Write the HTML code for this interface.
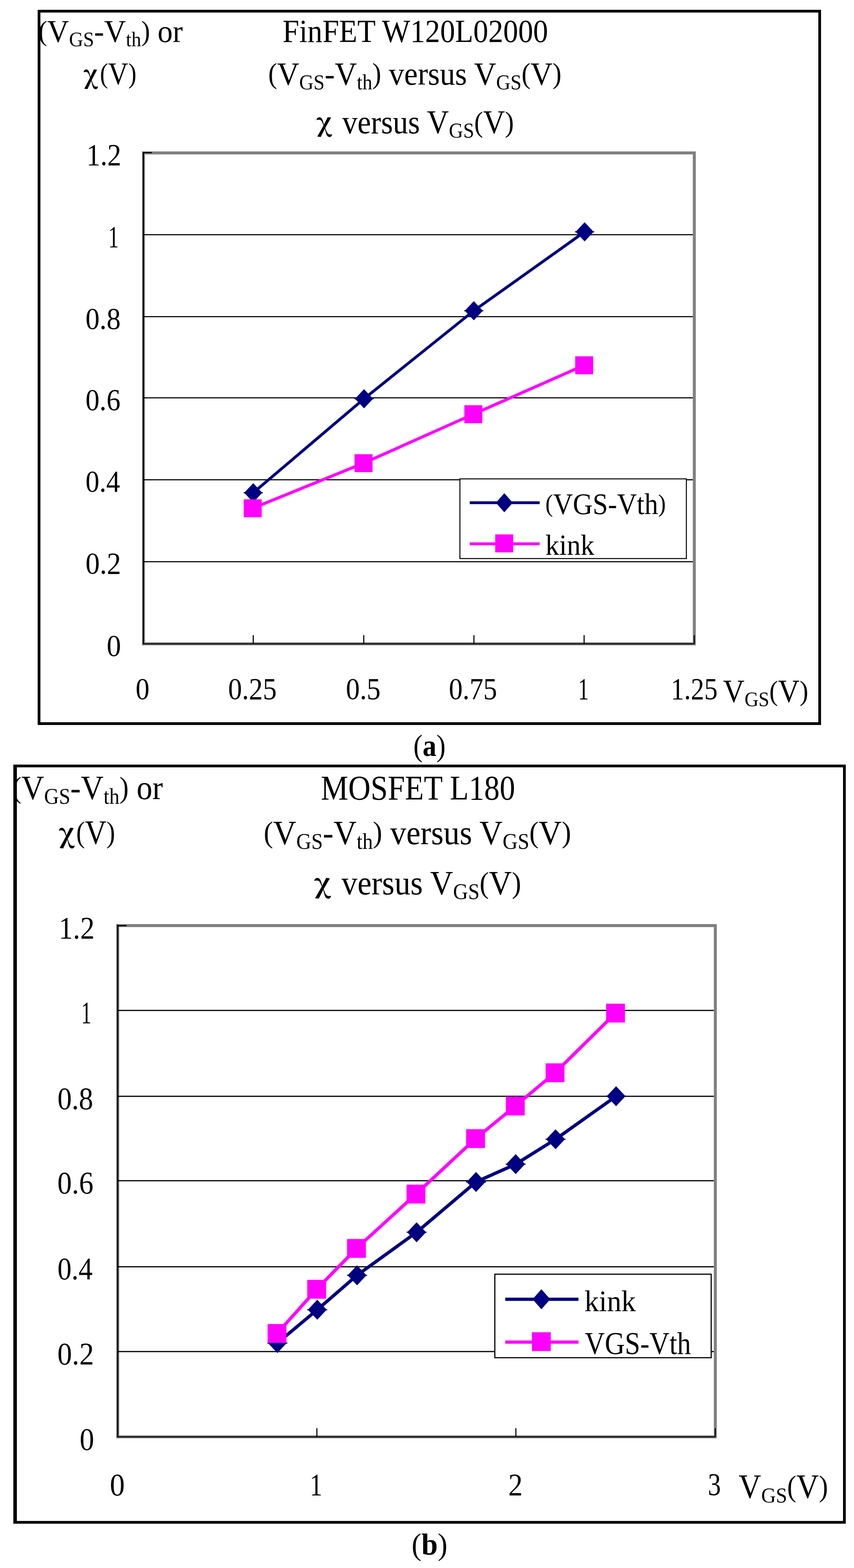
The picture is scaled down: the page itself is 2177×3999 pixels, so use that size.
<!DOCTYPE html>
<html><head><meta charset="utf-8"><title>FinFET / MOSFET (VGS-Vth) and kink versus VGS</title>
<style>html,body{margin:0;padding:0;background:#fff;}svg{display:block;}
text{font-family:"Liberation Serif","DejaVu Serif",serif;fill:#000;}</style></head>
<body><svg width="2177" height="3999" viewBox="0 0 2177 3999">
<rect width="2177" height="3999" fill="#fff"/>
<rect x='365.75' y='390.00' width='1404.15' height='1252.00' fill='none' stroke='#808080' stroke-width='7.6'/>
<line x1='365.75' y1='1432.70' x2='1766.10' y2='1432.70' stroke='#000' stroke-width='2.8' stroke-linecap='butt'/>
<line x1='365.75' y1='1223.70' x2='1766.10' y2='1223.70' stroke='#000' stroke-width='2.8' stroke-linecap='butt'/>
<line x1='365.75' y1='1014.60' x2='1766.10' y2='1014.60' stroke='#000' stroke-width='2.8' stroke-linecap='butt'/>
<line x1='365.75' y1='807.60' x2='1766.10' y2='807.60' stroke='#000' stroke-width='2.8' stroke-linecap='butt'/>
<line x1='365.75' y1='598.70' x2='1766.10' y2='598.70' stroke='#000' stroke-width='2.8' stroke-linecap='butt'/>
<line x1='365.50' y1='387.70' x2='365.50' y2='1643.25' stroke='#000' stroke-width='3' stroke-linecap='butt'/>
<line x1='364.00' y1='1642.00' x2='1769.90' y2='1642.00' stroke='#000' stroke-width='2.3' stroke-linecap='butt'/>
<line x1='364.00' y1='389.25' x2='387.00' y2='389.25' stroke='#000' stroke-width='3' stroke-linecap='butt'/>
<line x1='645.60' y1='1620.00' x2='645.60' y2='1642.00' stroke='#000' stroke-width='2.8' stroke-linecap='butt'/>
<line x1='927.30' y1='1620.00' x2='927.30' y2='1642.00' stroke='#000' stroke-width='2.8' stroke-linecap='butt'/>
<line x1='1208.10' y1='1620.00' x2='1208.10' y2='1642.00' stroke='#000' stroke-width='2.8' stroke-linecap='butt'/>
<line x1='1489.00' y1='1620.00' x2='1489.00' y2='1642.00' stroke='#000' stroke-width='2.8' stroke-linecap='butt'/>
<line x1='1769.90' y1='1620.00' x2='1769.90' y2='1642.00' stroke='#000' stroke-width='2.8' stroke-linecap='butt'/>
<polyline fill='none' stroke='#000080' stroke-width='7.3' stroke-linejoin='round' stroke-linecap='round' points='645.5,1256.8 928.0,1017.0 1207.8,792.5 1490.3,591.2'/>
<polyline fill='none' stroke='#FF00FF' stroke-width='7.6' stroke-linejoin='round' stroke-linecap='round' points='644.2,1296.3 926.7,1181.3 1206.6,1056.4 1489.2,931.6'/>
<polygon fill='#000080' points='622.5,1256.8 645.5,1232.3 668.5,1256.8 645.5,1281.3'/>
<rect x='621.00' y='1255.40' width='49.00' height='2.80' fill='#000080'/>
<polygon fill='#000080' points='905.0,1017.0 928.0,992.5 951.0,1017.0 928.0,1041.5'/>
<rect x='903.50' y='1015.60' width='49.00' height='2.80' fill='#000080'/>
<polygon fill='#000080' points='1184.8,792.5 1207.8,768.0 1230.8,792.5 1207.8,817.0'/>
<rect x='1183.30' y='791.10' width='49.00' height='2.80' fill='#000080'/>
<polygon fill='#000080' points='1467.3,591.2 1490.3,566.7 1513.3,591.2 1490.3,615.7'/>
<rect x='1465.80' y='589.80' width='49.00' height='2.80' fill='#000080'/>
<rect x='621.30' y='1273.40' width='45.80' height='45.80' fill='#FF00FF'/>
<rect x='903.80' y='1158.40' width='45.80' height='45.80' fill='#FF00FF'/>
<rect x='1183.70' y='1033.50' width='45.80' height='45.80' fill='#FF00FF'/>
<rect x='1466.30' y='908.70' width='45.80' height='45.80' fill='#FF00FF'/>
<rect x='1172.40' y='1221.30' width='577.30' height='203.20' fill='#fff' stroke='#000' stroke-width='2.5'/>
<line x1='1197.50' y1='1282.10' x2='1375.70' y2='1282.10' stroke='#000080' stroke-width='7.4' stroke-linecap='butt'/>
<polygon fill='#000080' points='1264.1,1282.2 1285.6,1257.8 1307.1,1282.2 1285.6,1306.6'/>
<line x1='1197.50' y1='1386.90' x2='1375.70' y2='1386.90' stroke='#FF00FF' stroke-width='7.4' stroke-linecap='butt'/>
<rect x='1262.40' y='1362.90' width='45.80' height='45.80' fill='#FF00FF'/>
<rect x='300.10' y='2360.60' width='1523.40' height='1303.90' fill='none' stroke='#808080' stroke-width='7.6'/>
<line x1='300.10' y1='3447.10' x2='1819.70' y2='3447.10' stroke='#000' stroke-width='3' stroke-linecap='butt'/>
<line x1='300.10' y1='3230.80' x2='1819.70' y2='3230.80' stroke='#000' stroke-width='3' stroke-linecap='butt'/>
<line x1='300.10' y1='3011.30' x2='1819.70' y2='3011.30' stroke='#000' stroke-width='3' stroke-linecap='butt'/>
<line x1='300.10' y1='2795.90' x2='1819.70' y2='2795.90' stroke='#000' stroke-width='3' stroke-linecap='butt'/>
<line x1='300.10' y1='2576.90' x2='1819.70' y2='2576.90' stroke='#000' stroke-width='3' stroke-linecap='butt'/>
<line x1='300.00' y1='2358.30' x2='300.00' y2='3665.75' stroke='#000' stroke-width='3' stroke-linecap='butt'/>
<line x1='298.50' y1='3664.50' x2='1823.50' y2='3664.50' stroke='#000' stroke-width='2.5' stroke-linecap='butt'/>
<line x1='298.50' y1='2360.80' x2='322.60' y2='2360.80' stroke='#000' stroke-width='3' stroke-linecap='butt'/>
<line x1='807.80' y1='3642.50' x2='807.80' y2='3664.50' stroke='#000' stroke-width='2.8' stroke-linecap='butt'/>
<line x1='1315.00' y1='3642.50' x2='1315.00' y2='3664.50' stroke='#000' stroke-width='2.8' stroke-linecap='butt'/>
<line x1='1823.30' y1='3642.50' x2='1823.30' y2='3664.50' stroke='#000' stroke-width='2.8' stroke-linecap='butt'/>
<polyline fill='none' stroke='#000080' stroke-width='8.4' stroke-linejoin='round' stroke-linecap='round' points='707.0,3425.3 808.8,3340.3 910.2,3252.4 1062.0,3142.7 1213.5,3014.4 1314.5,2969.1 1416.2,2905.5 1570.5,2795.8'/>
<polyline fill='none' stroke='#FF00FF' stroke-width='8.4' stroke-linejoin='round' stroke-linecap='round' points='706.2,3400.8 807.3,3288.2 908.7,3184.0 1060.4,3045.4 1212.3,2903.9 1313.6,2820.8 1414.9,2735.9 1569.1,2583.8'/>
<polygon fill='#000080' points='683.0,3425.3 707.0,3399.8 731.0,3425.3 707.0,3450.8'/>
<rect x='681.50' y='3423.90' width='51.00' height='2.80' fill='#000080'/>
<polygon fill='#000080' points='784.8,3340.3 808.8,3314.8 832.8,3340.3 808.8,3365.8'/>
<rect x='783.30' y='3338.90' width='51.00' height='2.80' fill='#000080'/>
<polygon fill='#000080' points='886.2,3252.4 910.2,3226.9 934.2,3252.4 910.2,3277.9'/>
<rect x='884.70' y='3251.00' width='51.00' height='2.80' fill='#000080'/>
<polygon fill='#000080' points='1038.0,3142.7 1062.0,3117.2 1086.0,3142.7 1062.0,3168.2'/>
<rect x='1036.50' y='3141.30' width='51.00' height='2.80' fill='#000080'/>
<polygon fill='#000080' points='1189.5,3014.4 1213.5,2988.9 1237.5,3014.4 1213.5,3039.9'/>
<rect x='1188.00' y='3013.00' width='51.00' height='2.80' fill='#000080'/>
<polygon fill='#000080' points='1290.5,2969.1 1314.5,2943.6 1338.5,2969.1 1314.5,2994.6'/>
<rect x='1289.00' y='2967.70' width='51.00' height='2.80' fill='#000080'/>
<polygon fill='#000080' points='1392.2,2905.5 1416.2,2880.0 1440.2,2905.5 1416.2,2931.0'/>
<rect x='1390.70' y='2904.10' width='51.00' height='2.80' fill='#000080'/>
<polygon fill='#000080' points='1546.5,2795.8 1570.5,2770.3 1594.5,2795.8 1570.5,2821.3'/>
<rect x='1545.00' y='2794.40' width='51.00' height='2.80' fill='#000080'/>
<rect x='682.20' y='3376.80' width='48.00' height='48.00' fill='#FF00FF'/>
<rect x='783.30' y='3264.20' width='48.00' height='48.00' fill='#FF00FF'/>
<rect x='884.70' y='3160.00' width='48.00' height='48.00' fill='#FF00FF'/>
<rect x='1036.40' y='3021.40' width='48.00' height='48.00' fill='#FF00FF'/>
<rect x='1188.30' y='2879.90' width='48.00' height='48.00' fill='#FF00FF'/>
<rect x='1289.60' y='2796.80' width='48.00' height='48.00' fill='#FF00FF'/>
<rect x='1390.90' y='2711.90' width='48.00' height='48.00' fill='#FF00FF'/>
<rect x='1545.10' y='2559.80' width='48.00' height='48.00' fill='#FF00FF'/>
<rect x='1261.40' y='3249.70' width='551.60' height='213.00' fill='#fff' stroke='#000' stroke-width='2.9'/>
<line x1='1288.00' y1='3313.60' x2='1474.70' y2='3313.60' stroke='#000080' stroke-width='8.4' stroke-linecap='butt'/>
<polygon fill='#000080' points='1357.6,3313.6 1380.1,3287.9 1402.6,3313.6 1380.1,3339.3'/>
<line x1='1288.00' y1='3422.90' x2='1474.70' y2='3422.90' stroke='#FF00FF' stroke-width='8.4' stroke-linecap='butt'/>
<rect x='1356.00' y='3397.70' width='48.00' height='48.00' fill='#FF00FF'/>
<defs><clipPath id='ca'><rect x='96' y='25' width='1997' height='1824'/></clipPath><clipPath id='cb'><rect x='34' y='1950' width='2122' height='1936'/></clipPath></defs>
<g clip-path='url(#ca)'>
<text transform='matrix(0.9474,0,0,1.0000,97.82,106.80)' font-size='81.2' ><tspan font-size='71.46' dy='-3.82'>(</tspan><tspan font-size='81.20' dy='3.82'>V</tspan><tspan font-size='52.78' dy='11.37'>GS</tspan><tspan font-size='81.20' dy='-11.37'>-V</tspan><tspan font-size='52.78' dy='11.37'>th</tspan><tspan font-size='71.46' dy='-15.18'>)</tspan><tspan font-size='81.20' dy='3.82'> or</tspan></text>
<text transform='matrix(0.7583,0,0,0.8274,212.90,212.71)' font-size='80' style="font-family:'Noto Serif CJK SC', 'Liberation Serif', serif" font-weight='bold'>χ</text>
<text transform='matrix(0.8790,0,0,1.0000,254.76,214.50)' font-size='81' ><tspan font-size='71.28' dy='-3.81'>(</tspan><tspan font-size='81.00' dy='3.81'>V</tspan><tspan font-size='71.28' dy='-3.81'>)</tspan></text>
<text transform='matrix(0.9129,0,0,1.0000,720.27,107.30)' font-size='83.5' >FinFET W120L02000</text>
<text transform='matrix(0.9386,0,0,1.0000,683.68,216.30)' font-size='83' ><tspan font-size='73.04' dy='-3.90'>(</tspan><tspan font-size='83.00' dy='3.90'>V</tspan><tspan font-size='53.95' dy='11.62'>GS</tspan><tspan font-size='83.00' dy='-11.62'>-V</tspan><tspan font-size='53.95' dy='11.62'>th</tspan><tspan font-size='73.04' dy='-15.52'>)</tspan><tspan font-size='83.00' dy='3.90'> versus V</tspan><tspan font-size='53.95' dy='11.62'>GS</tspan><tspan font-size='73.04' dy='-15.52'>(</tspan><tspan font-size='83.00' dy='3.90'>V</tspan><tspan font-size='73.04' dy='-3.90'>)</tspan></text>
<text transform='matrix(0.8229,0,0,0.8226,806.80,335.09)' font-size='80' style="font-family:'Noto Serif CJK SC', 'Liberation Serif', serif" font-weight='bold'>χ</text>
<text transform='matrix(0.9190,0,0,1.0000,872.50,339.50)' font-size='84.3' ><tspan font-size='84.30'>versus V</tspan><tspan font-size='54.80' dy='11.80'>GS</tspan><tspan font-size='74.18' dy='-15.76'>(</tspan><tspan font-size='84.30' dy='3.96'>V</tspan><tspan font-size='74.18' dy='-3.96'>)</tspan></text>
<text transform='matrix(0.9080,0,0,1.0000,220.14,421.00)' font-size='78.5' >1.2</text>
<text transform='matrix(0.6821,0,0,1.0000,275.92,630.00)' font-size='78.5' >1</text>
<text transform='matrix(0.9141,0,0,1.0000,217.96,839.00)' font-size='78.5' >0.8</text>
<text transform='matrix(0.9075,0,0,1.0000,217.98,1045.50)' font-size='78.5' >0.6</text>
<text transform='matrix(0.8979,0,0,1.0000,218.01,1254.30)' font-size='78.5' >0.4</text>
<text transform='matrix(0.9242,0,0,1.0000,217.93,1462.90)' font-size='78.5' >0.2</text>
<text transform='matrix(0.9303,0,0,1.0000,271.91,1673.00)' font-size='78.5' >0</text>
<text transform='matrix(0.8941,0,0,1.0000,345.72,1783.00)' font-size='79' >0</text>
<text transform='matrix(0.8962,0,0,1.0000,581.41,1783.00)' font-size='79' >0.25</text>
<text transform='matrix(0.8957,0,0,1.0000,881.81,1783.00)' font-size='79' >0.5</text>
<text transform='matrix(0.8894,0,0,1.0000,1144.23,1783.00)' font-size='79' >0.75</text>
<text transform='matrix(0.6964,0,0,1.0000,1473.62,1783.00)' font-size='79' >1</text>
<text transform='matrix(0.8633,0,0,1.0000,1709.96,1783.00)' font-size='79' >1.25</text>
<text transform='matrix(0.9323,0,0,1.0000,1843.07,1789.50)' font-size='81.5' ><tspan font-size='81.50'>V</tspan><tspan font-size='52.98' dy='11.41'>GS</tspan><tspan font-size='71.72' dy='-15.24'>(</tspan><tspan font-size='81.50' dy='3.83'>V</tspan><tspan font-size='71.72' dy='-3.83'>)</tspan></text>
<text transform='matrix(0.9121,0,0,1.0000,1390.36,1310.80)' font-size='76.6' ><tspan font-size='64.34' dy='-5.59'>(</tspan><tspan font-size='76.60' dy='5.59'>VGS-Vth</tspan><tspan font-size='64.34' dy='-5.59'>)</tspan></text>
<text transform='matrix(0.9636,0,0,1.0000,1390.24,1415.10)' font-size='73' >kink</text>
</g>
<g clip-path='url(#cb)'>
<text transform='matrix(0.9244,0,0,1.0000,30.97,2038.30)' font-size='86.9' ><tspan font-size='76.47' dy='-4.08'>(</tspan><tspan font-size='86.90' dy='4.08'>V</tspan><tspan font-size='56.49' dy='12.17'>GS</tspan><tspan font-size='86.90' dy='-12.17'>-V</tspan><tspan font-size='56.49' dy='12.17'>th</tspan><tspan font-size='76.47' dy='-16.25'>)</tspan><tspan font-size='86.90' dy='4.08'> or</tspan></text>
<text transform='matrix(0.8333,0,0,0.8694,150.10,2149.05)' font-size='80' style="font-family:'Noto Serif CJK SC', 'Liberation Serif', serif" font-weight='bold'>χ</text>
<text transform='matrix(0.8776,0,0,1.0000,194.37,2152.00)' font-size='86.4' ><tspan font-size='76.03' dy='-4.06'>(</tspan><tspan font-size='86.40' dy='4.06'>V</tspan><tspan font-size='76.03' dy='-4.06'>)</tspan></text>
<text transform='matrix(0.8931,0,0,1.0000,817.81,2039.20)' font-size='88.2' >MOSFET L180</text>
<text transform='matrix(0.9386,0,0,1.0000,672.28,2152.50)' font-size='87' ><tspan font-size='76.56' dy='-4.09'>(</tspan><tspan font-size='87.00' dy='4.09'>V</tspan><tspan font-size='56.55' dy='12.18'>GS</tspan><tspan font-size='87.00' dy='-12.18'>-V</tspan><tspan font-size='56.55' dy='12.18'>th</tspan><tspan font-size='76.56' dy='-16.27'>)</tspan><tspan font-size='87.00' dy='4.09'> versus V</tspan><tspan font-size='56.55' dy='12.18'>GS</tspan><tspan font-size='76.56' dy='-16.27'>(</tspan><tspan font-size='87.00' dy='4.09'>V</tspan><tspan font-size='76.56' dy='-4.09'>)</tspan></text>
<text transform='matrix(0.8792,0,0,0.8629,801.00,2277.17)' font-size='80' style="font-family:'Noto Serif CJK SC', 'Liberation Serif', serif" font-weight='bold'>χ</text>
<text transform='matrix(0.9320,0,0,1.0000,870.60,2281.30)' font-size='87' ><tspan font-size='87.00'>versus V</tspan><tspan font-size='56.55' dy='12.18'>GS</tspan><tspan font-size='76.56' dy='-16.27'>(</tspan><tspan font-size='87.00' dy='4.09'>V</tspan><tspan font-size='76.56' dy='-4.09'>)</tspan></text>
<text transform='matrix(0.9112,0,0,1.0000,149.42,2394.00)' font-size='80.5' >1.2</text>
<text transform='matrix(0.6586,0,0,1.0000,206.79,2610.00)' font-size='80.5' >1</text>
<text transform='matrix(0.9063,0,0,1.0000,146.38,2828.60)' font-size='80.5' >0.8</text>
<text transform='matrix(0.9116,0,0,1.0000,146.37,3044.20)' font-size='80.5' >0.6</text>
<text transform='matrix(0.8928,0,0,1.0000,146.42,3262.50)' font-size='80.5' >0.4</text>
<text transform='matrix(0.9258,0,0,1.0000,146.32,3479.80)' font-size='80.5' >0.2</text>
<text transform='matrix(0.9206,0,0,1.0000,203.04,3698.00)' font-size='80.5' >0</text>
<text transform='matrix(0.9412,0,0,1.0000,279.98,3813.80)' font-size='81' >0</text>
<text transform='matrix(0.7897,0,0,1.0000,789.87,3813.80)' font-size='81' >1</text>
<text transform='matrix(0.9030,0,0,1.0000,1295.79,3813.80)' font-size='81' >2</text>
<text transform='matrix(0.8182,0,0,1.0000,1804.43,3813.00)' font-size='81' >3</text>
<text transform='matrix(0.9264,0,0,1.0000,1882.87,3820.00)' font-size='86' ><tspan font-size='86.00'>V</tspan><tspan font-size='55.90' dy='12.04'>GS</tspan><tspan font-size='75.68' dy='-16.08'>(</tspan><tspan font-size='86.00' dy='4.04'>V</tspan><tspan font-size='75.68' dy='-4.04'>)</tspan></text>
<text transform='matrix(0.9566,0,0,1.0000,1489.94,3343.50)' font-size='77' >kink</text>
<text transform='matrix(0.8807,0,0,1.0000,1490.72,3452.60)' font-size='80.2' >VGS-Vth</text>
</g>
<text transform='matrix(0.9047,0,0,1.0000,1053.69,1927.70)' font-size='78' >(<tspan font-weight='bold'>a</tspan>)</text>
<text transform='matrix(0.9607,0,0,1.0000,1049.22,3964.90)' font-size='78' >(<tspan font-weight='bold'>b</tspan>)</text>
<rect x='99.5' y='28.5' width='1990' height='1817' fill='none' stroke='#000' stroke-width='7'/>
<path d='M34 1950 H2156 V3886 H34 Z M43 1957 V3879 H2149 V1957 Z' fill='#000' fill-rule='evenodd'/>
</svg></body></html>
